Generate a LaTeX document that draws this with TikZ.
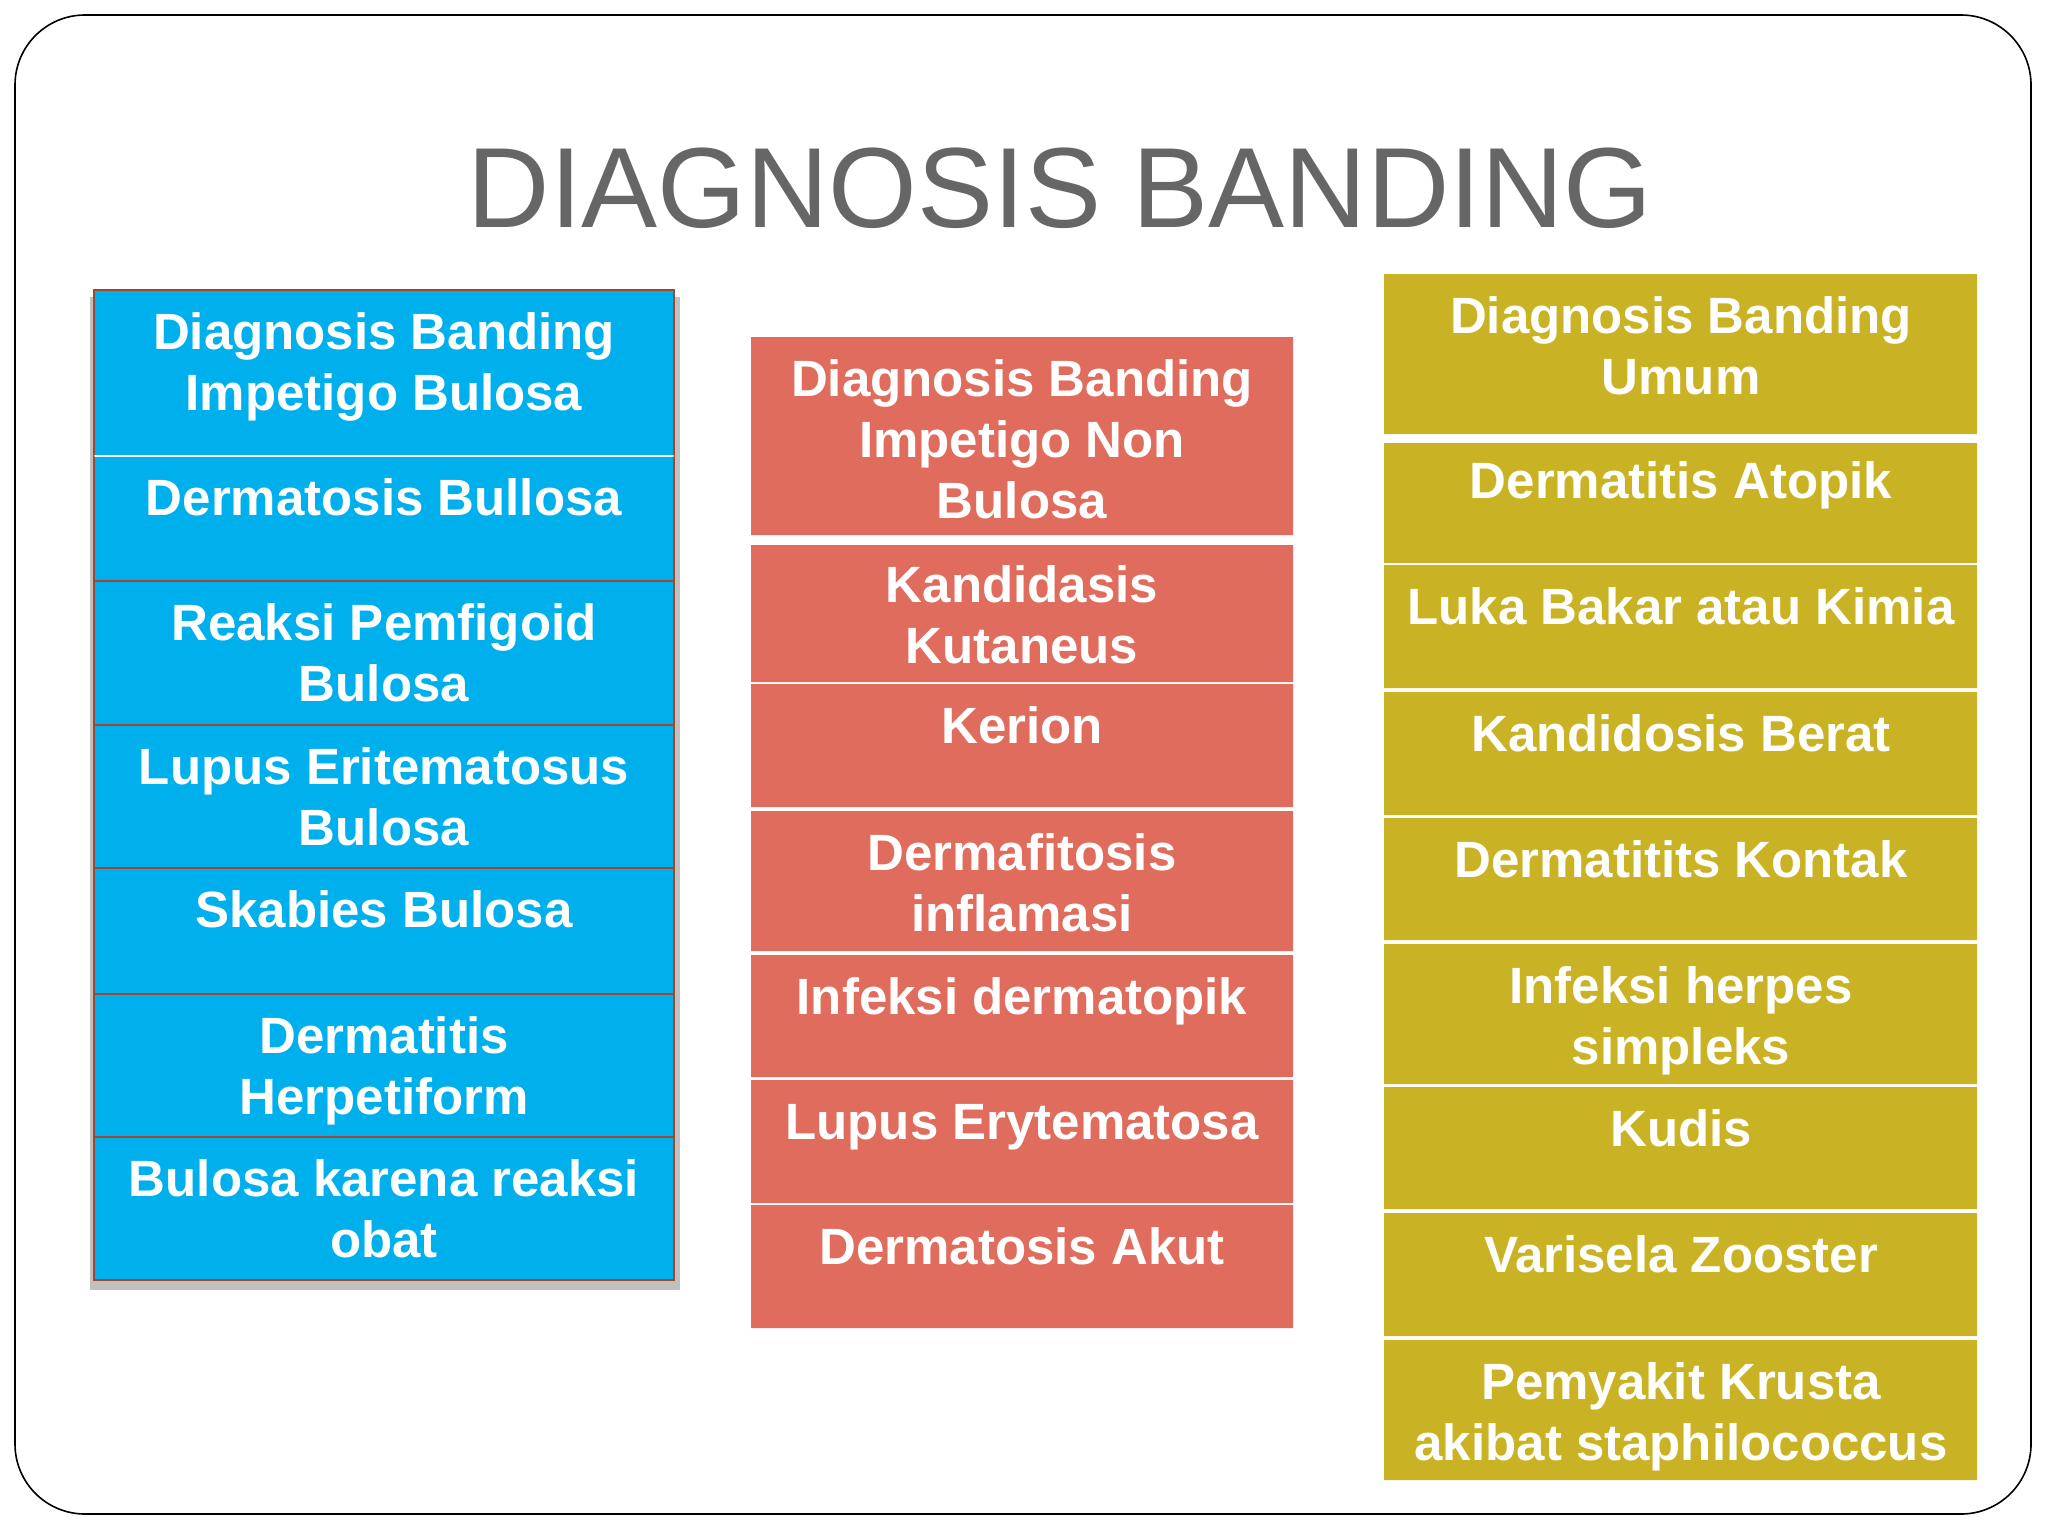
\documentclass[tikz,border=0pt]{standalone}
\usepackage{fontspec}
\setmainfont{Liberation Sans}
\definecolor{bulosa}{RGB}{0,176,237}
\definecolor{bulosaline}{RGB}{160,72,45}
\definecolor{nonbulosa}{RGB}{224,108,94}
\definecolor{umum}{RGB}{201,178,36}
\definecolor{titlegray}{RGB}{102,102,102}
\begin{document}
\begin{tikzpicture}[x=.5pt,y=-.5pt,line cap=round,
  cell/.style={font=\bfseries\fontsize{25.5}{30.5}\selectfont,text=white,align=center,anchor=north,inner sep=0pt,outer sep=0pt}]
  \useasboundingbox (0,0) rectangle (2048,1536);
  \draw[line width=.8pt,rounded corners=35pt] (15,15) rectangle (2031,1514);
  \node[anchor=base,text=titlegray,font=\fontsize{57}{60}\selectfont] (title) at (1060,227) {DIAGNOSIS BANDING};
  \fill[black!45,opacity=.55] (90,297) rectangle (680,1290);
  \filldraw[fill=bulosa,draw=bulosaline,line width=1pt] (94,290) rectangle (674,1280);
  \draw[white,line width=1pt] (95,456)--(673,456);
  \draw[bulosaline,line width=.8pt] (94,581)--(674,581) (94,725)--(674,725) (94,868)--(674,868) (94,994)--(674,994) (94,1137)--(674,1137);
  \node[cell] (b1) at (384,307) {\strut Diagnosis Banding\\Impetigo Bulosa};
  \node[cell] (b2) at (384,473) {\strut Dermatosis Bullosa};
  \node[cell] (b3) at (384,598) {\strut Reaksi Pemfigoid\\Bulosa};
  \node[cell] (b4) at (384,742) {\strut Lupus Eritematosus\\Bulosa};
  \node[cell] (b5) at (384,885) {\strut Skabies Bulosa};
  \node[cell] (b6) at (384,1011) {\strut Dermatitis\\Herpetiform};
  \node[cell] (b7) at (384,1154) {\strut Bulosa karena reaksi\\obat};
  \fill[nonbulosa] (751,337) rectangle (1293,535) (751,545) rectangle (1293,682) (751,684) rectangle (1293,807) (751,811) rectangle (1293,951);
  \fill[nonbulosa] (751,955) rectangle (1293,1077) (751,1080) rectangle (1293,1203) (751,1205) rectangle (1293,1328);
  \node[cell] (n1) at (1022,354) {\strut Diagnosis Banding\\Impetigo Non\\Bulosa};
  \node[cell] (n2) at (1022,560) {\strut Kandidasis\\Kutaneus};
  \node[cell] (n3) at (1022,701) {\strut Kerion};
  \node[cell] (n4) at (1022,828) {\strut Dermafitosis\\inflamasi};
  \node[cell] (n5) at (1022,972) {\strut Infeksi dermatopik};
  \node[cell] (n6) at (1022,1097) {\strut Lupus Erytematosa};
  \node[cell] (n7) at (1022,1222) {\strut Dermatosis Akut};
  \fill[umum] (1384,274) rectangle (1977,434) (1384,443) rectangle (1977,563) (1384,565) rectangle (1977,688) (1384,692) rectangle (1977,815) (1384,818) rectangle (1977,940);
  \fill[umum] (1384,944) rectangle (1977,1084) (1384,1087) rectangle (1977,1209) (1384,1213) rectangle (1977,1336) (1384,1340) rectangle (1977,1480);
  \node[cell] (u1) at (1681,291) {\strut Diagnosis Banding\\Umum};
  \node[cell] (u2) at (1681,456) {\strut Dermatitis Atopik};
  \node[cell] (u3) at (1681,582) {\strut Luka Bakar atau Kimia};
  \node[cell] (u4) at (1681,709) {\strut Kandidosis Berat};
  \node[cell] (u5) at (1681,835) {\strut Dermatitits Kontak};
  \node[cell] (u6) at (1681,961) {\strut Infeksi herpes\\simpleks};
  \node[cell] (u7) at (1681,1104) {\strut Kudis};
  \node[cell] (u8) at (1681,1230) {\strut Varisela Zooster};
  \node[cell] (u9) at (1681,1357) {\strut Pemyakit Krusta\\akibat staphilococcus};
\end{tikzpicture}
\end{document}
